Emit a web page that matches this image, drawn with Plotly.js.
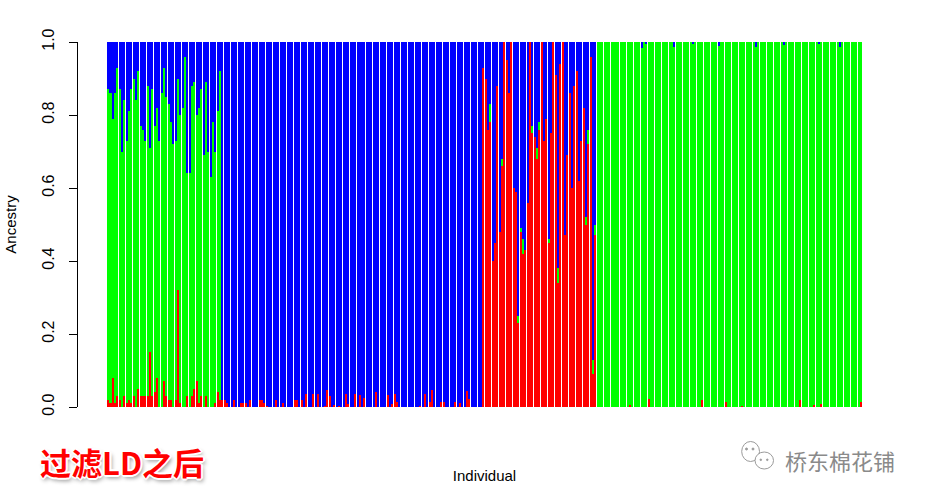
<!DOCTYPE html>
<html>
<head>
<meta charset="utf-8">
<script src="https://cdn.plot.ly/plotly-3.0.1.min.js"></script>
<style>html,body{margin:0;padding:0;background:#fff;}#chart{width:928px;height:499px;}</style>
</head>
<body>
<div id="chart"></div>
<script>
// Group A: mostly green ancestry (49 individuals)
const redA = [0.02,0.01,0.08,0.01,0.03, 0.02,0,0.03,0.01,0.02, 0.01,0.03,0,0.05,0.03, 0.03,0.03,0.03,0.15,0.03,
  0.04,0.08,0,0,0.07, 0.03,0.02,0.02,0,0.02, 0.32,0.01,0,0,0.03, 0,0.03,0.05,0.07,0.01, 0.03,0,0.03,0,0, 0,0.01,0.04,0.02];
const greenA = [0.85,0.85,0.71,0.85,0.90, 0.85,0.70,0.81,0.72,0.79, 0.86,0.87,0.84,0.87,0.74, 0.73,0.70,0.85,0.56,0.84,
  0.73,0.74,0.73,0.86,0.86, 0.82,0.81,0.76,0.72,0.71, 0.58,0.79,0.82,0.96,0.61, 0.64,0.85,0.84,0.73,0.81,
  0.84,0.69,0.86,0.70,0.63, 0.78,0.69,0.77,0.90];
// Group B: blue ancestry (111 individuals), only small red parts
const redB = [0.02,0.02,0.01,0,0,0.02,0,0,0.01,0.01,
  0.01,0,0.02,0,0,0,0.02,0.02,0.01,0.003,
  0,0,0,0.02,0,0,0.01,0,0,0,
  0,0.02,0.02,0,0.02,0,0.035,0,0,0.037,
  0,0.037,0,0,0.003,0.046,0.029,0,0.005,0,
  0.003,0,0,0.037,0.007,0,0,0.035,0,0.032,
  0,0.026,0,0,0,0,0.04,0,0,0,
  0,0.032,0,0.007,0.035,0.015,0,0,0,0,
  0,0,0,0,0,0.003,0,0.035,0,0.013,
  0.046,0,0,0,0.013,0.013,0,0,0,0,
  0.013,0,0.01,0,0,0.043,0.021,0,0,0,0];
// Group C: red/blue admixed (50 individuals)
const redC = [0,0.93,0.90,0.76,0.78, 0.40,0.45,0.88,0.48,0.66, 1,0.95,0.86,1,0.60, 0.59,0.23,0.48,0.42,0.43,
  0.56,1,0.75,0.74,0.68, 0.76,1,0.73,0.79,0.45, 0.75,1,0.91,0.34,0.94, 1,0.47,0.69,0.86,0.60,
  0.88,0.92,0.62,0.73,0.82, 0.50,0.72,0.96,0.09,0.47];
const greenC = [0,0,0,0,0.05, 0,0,0,0,0.02, 0,0,0,0,0, 0,0.02,0.01,0.04,0,
  0,0,0.02,0,0.03, 0.02,0,0,0,0.01, 0,0,0,0.04,0, 0,0,0,0,0,
  0,0,0,0,0, 0.02,0.04,0,0.04,0.03];
// Group D: green ancestry (114 individuals), tiny red and blue parts
const redD = [0,0,0,0,0,0,0,0,0,0,
  0,0,0,0,0.005,0,0,0,0,0,
  0,0,0.022,0,0,0,0,0,0,0,
  0,0,0,0,0,0,0,0,0,0,
  0,0,0,0,0,0.019,0,0,0,0,
  0,0,0,0,0,0.014,0,0,0,0,
  0,0,0.003,0,0,0,0,0,0,0,
  0,0,0,0,0,0,0,0,0,0,
  0,0,0,0,0,0,0,0.019,0,0,
  0,0,0,0.005,0,0,0.008,0,0,0,
  0,0,0,0,0,0,0,0,0,0,
  0,0,0,0.014];
const blueD = [0,0,0,0,0,0,0,0,0,0,
  0,0,0,0,0,0,0,0,0,0.016,
  0,0.005,0,0,0,0,0,0,0,0,
  0,0,0,0.014,0,0,0,0,0,0,
  0,0.005,0,0,0,0,0,0,0,0,
  0,0,0.011,0,0,0,0,0,0,0,
  0,0,0,0,0,0,0,0,0.014,0,
  0,0,0,0,0,0,0,0,0,0,
  0.008,0,0,0,0,0,0,0,0,0,
  0,0,0,0,0,0.005,0,0,0,0,
  0,0,0,0,0.014,0,0,0,0,0,
  0,0,0,0];

const yTickVals = [0, 0.2, 0.4, 0.6, 0.8, 1.0];
const yTickText = ["0.0", "0.2", "0.4", "0.6", "0.8", "1.0"];
const colRed = "#FF0000", colGreen = "#00FF00", colBlue = "#0000FF";

// individual positions
const nA = redA.length, nB = redB.length, nC = redC.length, nD = redD.length;
const idx = (start, n) => Array.from({length: n}, (_, k) => start + k + 1);
const xA = idx(0, nA), xB = idx(nA, nB), xC = idx(nA + nB, nC), xD = idx(nA + nB + nC, nD);

// remainder components (ancestry proportions sum to 1)
const blueA = redA.map((r, i) => Math.max(0, 1 - r - greenA[i]));
const blueB = redB.map(r => 1 - r);
const blueC = redC.map((r, i) => Math.max(0, 1 - r - greenC[i]));
const greenD = redD.map((r, i) => 1 - r - blueD[i]);

const barStyle = (c) => ({color: c, line: {width: 0}});
const traces = [
  {type: "bar", name: "K1", x: [...xA, ...xB, ...xC, ...xD], y: [...redA, ...redB, ...redC, ...redD], marker: barStyle(colRed), hoverinfo: "skip"},
  {type: "bar", name: "K2", x: [...xA, ...xC, ...xD], y: [...greenA, ...greenC, ...greenD], marker: barStyle(colGreen), hoverinfo: "skip"},
  {type: "bar", name: "K3", x: [...xA, ...xB, ...xC, ...xD], y: [...blueA, ...blueB, ...blueC, ...blueD], marker: barStyle(colBlue), hoverinfo: "skip"}
];

const N = nA + nB + nC + nD;
const W = 928, plotL = 77, plotR = 892, barL = 107, barR = 862;
const pw = plotR - plotL;
const px = v => (v - plotL) / pw;
const py = v => (407 - v) / 365;

const layout = {
  width: 928, height: 499,
  margin: {l: plotL, r: W - plotR, t: 42, b: 92, pad: 0},
  paper_bgcolor: "#fff", plot_bgcolor: "#fff",
  barmode: "stack", bargap: 0.14,
  showlegend: false,
  font: {family: "Liberation Sans, Arial, sans-serif", size: 15, color: "#000"},
  xaxis: {
    domain: [px(barL), px(barR)],
    range: [0.5, N + 0.5],
    showline: false, showgrid: false, zeroline: false, showticklabels: false, ticks: "",
    title: {text: "Individual", font: {size: 15}, standoff: 63}
  },
  yaxis: {
    anchor: "free", position: 0,
    range: [0, 1], fixedrange: true,
    tickvals: yTickVals, ticktext: yTickText,
    tickangle: -90,
    ticks: "outside", ticklen: 8, tickwidth: 1, tickcolor: "#000",
    ticklabelstandoff: 9,
    showline: true, linecolor: "#000", linewidth: 1,
    showgrid: false, zeroline: false,
    tickfont: {size: 16},
    title: {text: "Ancestry", font: {size: 15}, standoff: 18}
  },
  annotations: [
    {text: "<b>过滤LD之后</b>", xref: "paper", yref: "paper", x: px(122), y: py(461), xanchor: "center", yanchor: "middle",
     showarrow: false,
     font: {family: "Noto Sans CJK SC, sans-serif", size: 31, color: "#FF0000",
            shadow: "1px 1px 0 #fff, -1px -1px 0 #fff, 1px -1px 0 #fff, -1px 1px 0 #fff, 2px 0 0 #fff, -2px 0 0 #fff, 0 2px 0 #fff, 0 -2px 0 #fff, 2px 3px 4px rgba(0,0,0,0.45)"}},
    {text: "桥东棉花铺", xref: "paper", yref: "paper", x: px(840), y: py(460), xanchor: "center", yanchor: "middle",
     showarrow: false,
     font: {family: "Noto Sans CJK SC, sans-serif", size: 22, color: "#8a8a8a"}}
  ],
  shapes: [
    {type: "circle", xref: "paper", yref: "paper", x0: px(741.7), x1: px(759.5), y0: py(441.5), y1: py(461.5),
     line: {color: "#9a9a9a", width: 1}, fillcolor: "rgba(255,255,255,0)"},
    {type: "circle", xref: "paper", yref: "paper", x0: px(755), x1: px(773.5), y0: py(452), y1: py(469),
     line: {color: "#9a9a9a", width: 1}, fillcolor: "#fff"},
    {type: "circle", xref: "paper", yref: "paper", x0: px(745.5), x1: px(747.5), y0: py(448), y1: py(450),
     line: {color: "#9a9a9a", width: 1}, fillcolor: "#9a9a9a"},
    {type: "circle", xref: "paper", yref: "paper", x0: px(752), x1: px(754), y0: py(448), y1: py(450),
     line: {color: "#9a9a9a", width: 1}, fillcolor: "#9a9a9a"},
    {type: "circle", xref: "paper", yref: "paper", x0: px(760), x1: px(761.6), y0: py(459), y1: py(460.6),
     line: {color: "#9a9a9a", width: 1}, fillcolor: "#9a9a9a"},
    {type: "circle", xref: "paper", yref: "paper", x0: px(766.5), x1: px(768.1), y0: py(459), y1: py(460.6),
     line: {color: "#9a9a9a", width: 1}, fillcolor: "#9a9a9a"}
  ]
};

Plotly.newPlot("chart", traces, layout, {staticPlot: true, displayModeBar: false});
</script>
</body>
</html>
